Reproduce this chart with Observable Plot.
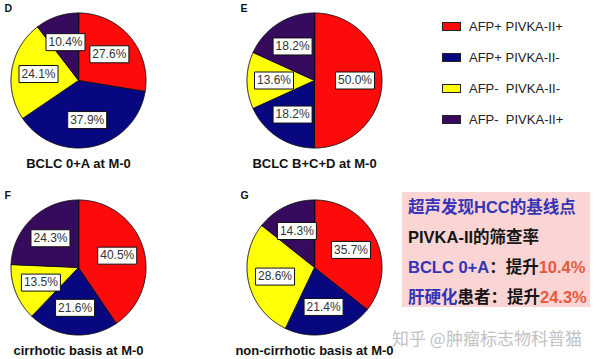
<!DOCTYPE html>
<html>
<head>
<meta charset="utf-8">
<script src="https://cdn.jsdelivr.net/npm/d3@7"></script>
<script src="https://cdn.jsdelivr.net/npm/@observablehq/plot@0.6"></script>
<style>
  html, body { margin: 0; padding: 0; background: #fff; }
  #wrap { position: relative; width: 600px; height: 359px; overflow: hidden; font-family: "Liberation Sans", Arial, sans-serif; }
  #chart svg { overflow: visible; display: block; }
  #legend { position: absolute; left: 442px; top: 11px; }
  .lrow { height: 31px; display: flex; align-items: center; }
  .sw { width: 17px; height: 7px; border: 1px solid #222; margin-right: 8px; }
  .lt { font-size: 13px; color: #222; white-space: pre; }
  #box { position: absolute; left: 402px; top: 192px; width: 182px; height: 115px; background: #fbd4d4; padding-left: 6px;
         font-family: "Liberation Sans", "Noto Sans CJK SC", sans-serif; font-weight: bold; font-size: 16.5px; line-height: 30px; }
  .bl { color: #3434b4; } .bk { color: #151515; } .or { color: #e85a3c; }
  #wm { position: absolute; left: 392px; top: 327px; font-family: "Noto Sans CJK SC", sans-serif; font-size: 17px; line-height: 22px; color: #c2c2c2; white-space: pre; }
</style>
</head>
<body>
<div id="wrap">
  <div id="chart"></div>
  <div id="legend"></div>
  <div id="box"></div>
  <div id="wm"></div>
</div>
<script>
// ---- data ----
const categories = ["AFP+ PIVKA-II+", "AFP+ PIVKA-II-", "AFP-  PIVKA-II-", "AFP-  PIVKA-II+"];
const colors = ["#fe0a0a", "#07077f", "#ffff05", "#360a5c"];
const panels = ["D", "E", "F", "G"];
const titles = ["BCLC 0+A at M-0", "BCLC B+C+D at M-0", "cirrhotic basis at M-0", "non-cirrhotic basis at M-0"];
const gridCol = [0, 1, 0, 1];
const gridRow = [0, 0, 1, 1];
const valuesD = [27.6, 37.9, 24.1, 10.4];
const valuesE = [50.0, 18.2, 13.6, 18.2];
const valuesF = [40.5, 21.6, 13.5, 24.3];
const valuesG = [35.7, 21.4, 28.6, 14.3];
const boxLines = [
  [["超声发现HCC的基线点", "bl"]],
  [["PIVKA-II的筛查率", "bk"]],
  [["BCLC 0+A", "bl"], ["：提升", "bk"], ["10.4%", "or"]],
  [["肝硬化", "bl"], ["患者：提升", "bk"], ["24.3%", "or"]]
];
const watermark = "知乎 @肿瘤标志物科普猫";

// ---- build tables ----
const allValues = [valuesD, valuesE, valuesF, valuesG];
const pies = panels.map((p, i) => ({panel: p, title: titles[i], col: gridCol[i], row: gridRow[i]}));
const slicePts = [];
const labels = [];
allValues.forEach((vals, pi) => {
  const total = d3.sum(vals);
  let acc = 0;
  vals.forEach((v, ci) => {
    const a0 = acc / total * 2 * Math.PI;
    acc += v;
    const a1 = acc / total * 2 * Math.PI;
    const key = panels[pi] + ci;
    const base = {key, cat: categories[ci], col: gridCol[pi], row: gridRow[pi]};
    slicePts.push({...base, x: 0, y: 0});
    const n = Math.max(2, Math.ceil((a1 - a0) / 0.01));
    for (let k = 0; k <= n; k++) {
      const a = a0 + (a1 - a0) * k / n;
      slicePts.push({...base, x: Math.sin(a), y: Math.cos(a)});
    }
    const am = (a0 + a1) / 2;
    labels.push({...base, x: 0.6 * Math.sin(am), y: 0.6 * Math.cos(am), text: v.toFixed(1) + "%"});
  });
});

const boxSymbol = {draw(ctx) { ctx.rect(-19.5, -8.5, 39, 17); }};

const R = 67.5; // px per unit radius
const chart = Plot.plot({
  width: 600, height: 359,
  marginTop: 0, marginLeft: 0, marginRight: 208, marginBottom: 12,
  style: {fontFamily: "'Liberation Sans', Arial, sans-serif", background: "transparent", overflow: "visible"},
  x: {domain: [-78 / R, 78 / R], axis: null},
  y: {domain: [-80 / R, 80 / R], axis: null},
  fx: {domain: [0, 1], paddingInner: 1 - 156 / 236, paddingOuter: 0, axis: null},
  fy: {domain: [0, 1], paddingInner: 1 - 160 / 187.5, paddingOuter: 0, axis: null},
  color: {domain: categories, range: colors},
  marks: [
    Plot.line(slicePts, {x: "x", y: "y", z: "key", fill: "cat", stroke: "#111", strokeWidth: 1, curve: "linear-closed", fx: "col", fy: "row"}),
    Plot.dot(labels, {x: "x", y: "y", symbol: boxSymbol, fill: "white", stroke: "#111", strokeWidth: 1, fx: "col", fy: "row"}),
    Plot.text(labels, {x: "x", y: "y", text: "text", fill: "#333", fontSize: 12, fx: "col", fy: "row"}),
    Plot.text(pies, {x: 0, frameAnchor: "bottom", lineAnchor: "middle", dy: 3, text: "title", fontSize: 13, fontWeight: "bold", fill: "#111", fx: "col", fy: "row"}),
    Plot.text(pies, {frameAnchor: "top-left", lineAnchor: "middle", textAnchor: "start", dx: 4, dy: 8.5, text: "panel", fontSize: 10.5, fontWeight: "bold", fill: "#111", fx: "col", fy: "row"})
  ]
});
document.getElementById("chart").appendChild(chart);

// legend
const leg = document.getElementById("legend");
categories.forEach((c, i) => {
  const row = document.createElement("div"); row.className = "lrow";
  const sw = document.createElement("div"); sw.className = "sw"; sw.style.background = colors[i];
  const t = document.createElement("span"); t.className = "lt"; t.textContent = c;
  row.appendChild(sw); row.appendChild(t); leg.appendChild(row);
});
// text box
const box = document.getElementById("box");
boxLines.forEach(parts => {
  const line = document.createElement("div");
  parts.forEach(([s, cls]) => { const sp = document.createElement("span"); sp.className = cls; sp.textContent = s; line.appendChild(sp); });
  box.appendChild(line);
});
document.getElementById("wm").textContent = watermark;
</script>
</body>
</html>
